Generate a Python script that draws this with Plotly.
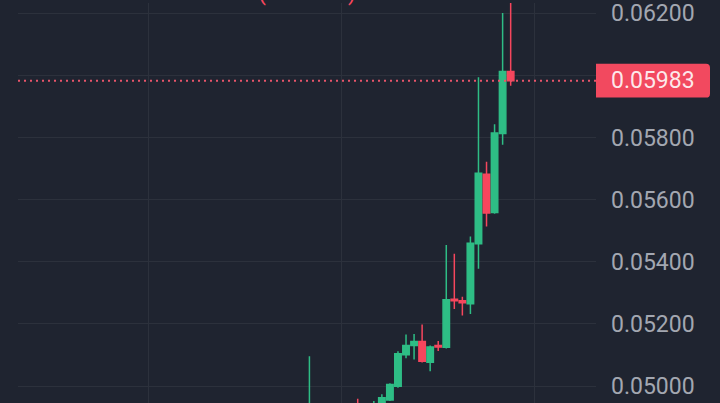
import pandas as pd
import plotly.graph_objects as go

# 15-minute candles, the last one is the live candle
times = pd.date_range("2024-05-20 11:00", periods=26, freq="15min")
opens = [0.04900, 0.04905, 0.04912, 0.04908, 0.04915, 0.04922, 0.04935, 0.04910, 0.04915,
         0.04930, 0.04955, 0.05000, 0.05101, 0.05131, 0.05144, 0.05077, 0.05131, 0.05125,
         0.05280, 0.05275, 0.05265, 0.05458, 0.05682, 0.05559, 0.05813, 0.06013]
highs = [0.05096, 0.04925, 0.04930, 0.04932, 0.04936, 0.04938, 0.04959, 0.04938, 0.04952,
         0.04974, 0.05009, 0.05112, 0.05166, 0.05168, 0.05198, 0.05131, 0.05145, 0.05454,
         0.05426, 0.05288, 0.05482, 0.05994, 0.05722, 0.05843, 0.06201, 0.06260]
lows = [0.04880, 0.04890, 0.04895, 0.04898, 0.04902, 0.04905, 0.04900, 0.04900, 0.04910,
        0.04917, 0.04952, 0.04995, 0.05090, 0.05086, 0.05076, 0.05048, 0.05113, 0.05121,
        0.05248, 0.05227, 0.05232, 0.05378, 0.05514, 0.05555, 0.05777, 0.05967]
closes = [0.04930, 0.04912, 0.04908, 0.04915, 0.04922, 0.04935, 0.04910, 0.04915, 0.04930,
          0.04963, 0.05005, 0.05104, 0.05131, 0.05144, 0.05080, 0.05126, 0.05126, 0.05278,
          0.05275, 0.05268, 0.05460, 0.05685, 0.05557, 0.05815, 0.06013, 0.05983]

last_price = 0.05983
price_ticks = [0.050, 0.052, 0.054, 0.056, 0.058, 0.060, 0.062]
grid_times = ["2024-05-20 06:00", "2024-05-20 12:00", "2024-05-20 18:00"]

BG = "#1f2430"
GRID = "#2c313c"
UP = "#2ebd85"
DOWN = "#f6465d"

fig = go.Figure()

fig.add_trace(go.Candlestick(
    x=times, open=opens, high=highs, low=lows, close=closes,
    increasing=dict(line=dict(color=UP, width=1.5), fillcolor=UP),
    decreasing=dict(line=dict(color=DOWN, width=1.5), fillcolor=DOWN),
    showlegend=False, hoverinfo="none",
))

# dotted last-price line
fig.add_shape(type="line", xref="paper", yref="y", x0=0, x1=1, y0=last_price, y1=last_price,
              line=dict(color="#e8546a", width=2, dash="2px,4px"), layer="above")

# rounded price badge on the axis
px_w, px_h = 578.0, 31300.0  # pixels per paper unit / per price unit
x0, x1 = 1.0, 1.0 + 114 / px_w
y0, y1 = last_price - 17 / px_h, last_price + 17 / px_h
rx, ry = 4 / px_w, 4 / px_h
path = (f"M {x0},{y0} L {x0},{y1} L {x1 - rx},{y1} Q {x1},{y1} {x1},{y1 - ry} "
        f"L {x1},{y0 + ry} Q {x1},{y0} {x1 - rx},{y0} Z")
fig.add_shape(type="path", xref="paper", yref="y", path=path,
              fillcolor="#f2495f", line=dict(width=0), layer="above")
fig.add_annotation(xref="paper", yref="y", x=1, y=last_price, xanchor="left", yanchor="middle",
                   xshift=13, text=f"{last_price:.5f}", showarrow=False,
                   font=dict(family="Roboto", size=23, color="rgba(255,255,255,0.88)"))

# bits of a red label cut off at the top edge
for px, ch in [(262, "("), (352, ")")]:
    fig.add_annotation(xref="paper", yref="paper", x=(px - 18) / px_w, y=1, yanchor="bottom",
                       yshift=-5, text=ch, showarrow=False,
                       font=dict(family="Roboto", size=23, color=DOWN))

fig.update_layout(
    width=720, height=403,
    paper_bgcolor=BG, plot_bgcolor=BG,
    margin=dict(l=18, r=124, t=0, b=0),
    boxgap=0.2, boxgroupgap=0,
    font=dict(family="Roboto"),
    xaxis=dict(
        type="date", range=["2024-05-20 01:57", "2024-05-20 19:54"],
        rangeslider=dict(visible=False), tickvals=grid_times, showticklabels=False,
        showgrid=True, gridcolor=GRID, gridwidth=1, zeroline=False, showline=False, ticks="",
    ),
    yaxis=dict(
        side="right", range=[0.049457, 0.062332],
        tickvals=price_ticks,
        ticktext=["" if abs(v - 0.060) < 1e-9 else f"{v:.5f}" for v in price_ticks],
        tickfont=dict(family="Roboto", size=23, color="#a3a7b1"),
        showgrid=True, gridcolor=GRID, gridwidth=1, zeroline=False, showline=False,
        ticks="", ticklabelstandoff=14, ticklabeloverflow="allow",
    ),
)

# drop the page's default body margin so the figure sits at the window's corner
fig.write_html("out.html", config={"displayModeBar": False},
               post_script="document.body.style.margin='0';"
                           "document.body.style.background='#1f2430';")
